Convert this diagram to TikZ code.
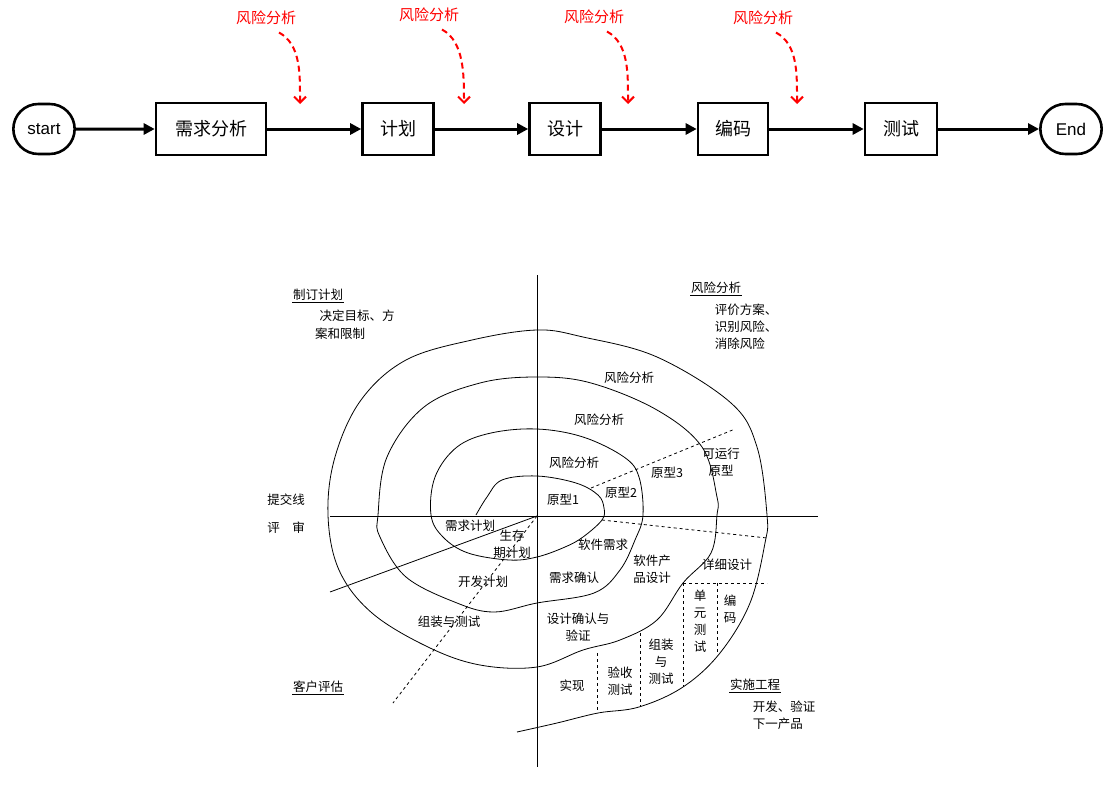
\documentclass[tikz,border=0pt]{standalone}
\usepackage{fontspec}
\setmainfont{Liberation Sans}
\newfontfamily\cjk{Noto Sans CJK SC}
\usetikzlibrary{arrows.meta,shapes.misc,calc}

\begin{document}
\begin{tikzpicture}[x=1pt, y=-1pt,
  flowbox/.style = {draw, line width=2.6pt, minimum height=52pt, font=\cjk\fontsize{18}{18}\selectfont},
  term/.style = {draw, line width=2.6pt, rounded rectangle, minimum height=50pt, minimum width=68pt, font=\fontsize{17}{17}\selectfont},
  flow/.style = {line width=3pt, -{Triangle[length=11pt,width=11pt]}},
  risk/.style = {text=red, font=\cjk\fontsize{15}{15}\selectfont},
  riskarrow/.style = {red, line width=2pt, dash pattern=on 6pt off 4pt, -{Straight Barb[length=6pt,width=12pt]}},
  lbl/.style = {font=\cjk\fontsize{12.5}{17}\selectfont, inner sep=1pt, align=center},
  head/.style = {lbl, text depth=2pt, path picture={\draw (path picture bounding box.south west) -- (path picture bounding box.south east);}},
  ring/.style = {line width=0.8pt},
  cut/.style = {line width=0.8pt, dashed}]
\useasboundingbox (0,0) rectangle (1117,787);

% flow row
\node[term] (start) at (44,129) {start};
\node[flowbox, minimum width=110pt] (req) at (211,129) {需求分析};
\node[flowbox, minimum width=71pt] (plan) at (398,129) {计划};
\node[flowbox, minimum width=71pt] (design) at (565,129) {设计};
\node[flowbox, minimum width=70pt] (code) at (733,129) {编码};
\node[flowbox, minimum width=72pt] (test) at (901,129) {测试};
\node[term] (end) at (1071,129) {End};
\draw[flow] (start) -- (req);
\draw[flow] (req) -- (plan);
\draw[flow] (plan) -- (design);
\draw[flow] (design) -- (code);
\draw[flow] (code) -- (test);
\draw[flow] (test) -- (end);

\foreach \i/\x/\y/\ax in {1/266/18/300, 2/429/15/464, 3/594/17/628, 4/763/18/797} {
  \node[risk] (risk\i) at (\x,\y) {风险分析};
  \coordinate (tip\i) at (\ax,104);
  \draw[riskarrow] ($(risk\i.south)+(13,4)$) .. controls +(22,12) and +(0,-30) .. (tip\i);
}

% spiral axes
\coordinate (o) at (537,516);
\draw[ring] (537,275) -- (537,767);
\draw[ring] (330,516) -- (818,516);

\draw[ring] plot[smooth, tension=0.6] coordinates {
 (476,515) (487,497) (502,480) (537,476) (576,483) (598,495) (604,508) (602,520)
 (583,537) (565,547) (537,557) (509,560) (468,553) (443,537) (431,515) (435,477)
 (457,447) (491,433) (537,429) (583,437) (624,457) (639,477) (643,515) (635,540)
 (620,570) (594,593) (537,603) (494,612) (457,603) (406,577) (380,537) (378,515)
 (387,457) (424,407) (480,383) (537,377) (591,383) (657,410) (702,447) (717,497)
 (717,515) (711,553) (683,583) (657,620) (620,640) (583,650) (537,667) (480,665)
 (428,647) (372,613) (339,570) (328,515) (335,457) (361,400) (406,360) (472,340)
 (537,330) (583,337) (657,357) (731,403) (757,447) (767,515) (765,543) (750,603)
 (720,653) (683,687) (639,707) (598,713) (557,723) (517,732)};

\draw[ring] (o) -- (330,592);
\draw[cut] (o) -- (393,703);
\draw[cut] (591,488) -- (735,429);
\draw[cut] (602,520) -- (767,538);
\draw[cut] (683,583) -- (767,583);
\draw[cut] (683,583) -- (683,687);
\draw[cut] (717,583) -- (717,653);
\draw[cut] (640,633) -- (640,707);
\draw[cut] (597,653) -- (597,713);

% labels
\node[head] (q1) at (318,295) {制订计划};
\node[lbl] (q1a) at (357,316) {决定目标、方};
\node[lbl] (q1b) at (340,334) {案和限制};
\node[head] (q2) at (716,288) {风险分析};
\node[lbl, align=left] (q2a) at (746,327) {评价方案、\\识别风险、\\消除风险};
\node[head] (q3) at (318,687) {客户评估};
\node[head] (q4) at (755,685) {实施工程};
\node[lbl, align=left] (q4a) at (784,715) {开发、验证\\下一产品};
\node[lbl] (commit) at (286,500) {提交线};
\node[lbl] (review) at (286,528) {评\quad 审};

\node[lbl] (r3) at (629,378) {风险分析};
\node[lbl] (r2) at (599,420) {风险分析};
\node[lbl] (r1) at (574,463) {风险分析};
\node[lbl] (p1) at (563,500) {原型1};
\node[lbl] (p2) at (621,493) {原型2};
\node[lbl] (p3) at (667,473) {原型3};
\node[lbl] (p4) at (721,462) {可运行\\原型};
\node[lbl] (reqplan) at (470,526) {需求计划};
\node[lbl] (life) at (512,544) {生存\\期计划};
\node[lbl] (swreq) at (603,545) {软件需求};
\node[lbl] (prod) at (652,569) {软件产\\品设计};
\node[lbl] (reqchk) at (574,578) {需求确认};
\node[lbl] (devplan) at (483,582) {开发计划};
\node[lbl] (detail) at (727,565) {详细设计};
\node[lbl] (unit) at (700,621) {单\\元\\测\\试};
\node[lbl] (codec) at (730,609) {编\\码};
\node[lbl] (integ1) at (449,622) {组装与测试};
\node[lbl] (verify) at (578,627) {设计确认与\\验证};
\node[lbl] (integ2) at (661,662) {组装\\与\\测试};
\node[lbl] (accept) at (620,681) {验收\\测试};
\node[lbl] (impl) at (572,686) {实现};
\end{tikzpicture}
\end{document}
